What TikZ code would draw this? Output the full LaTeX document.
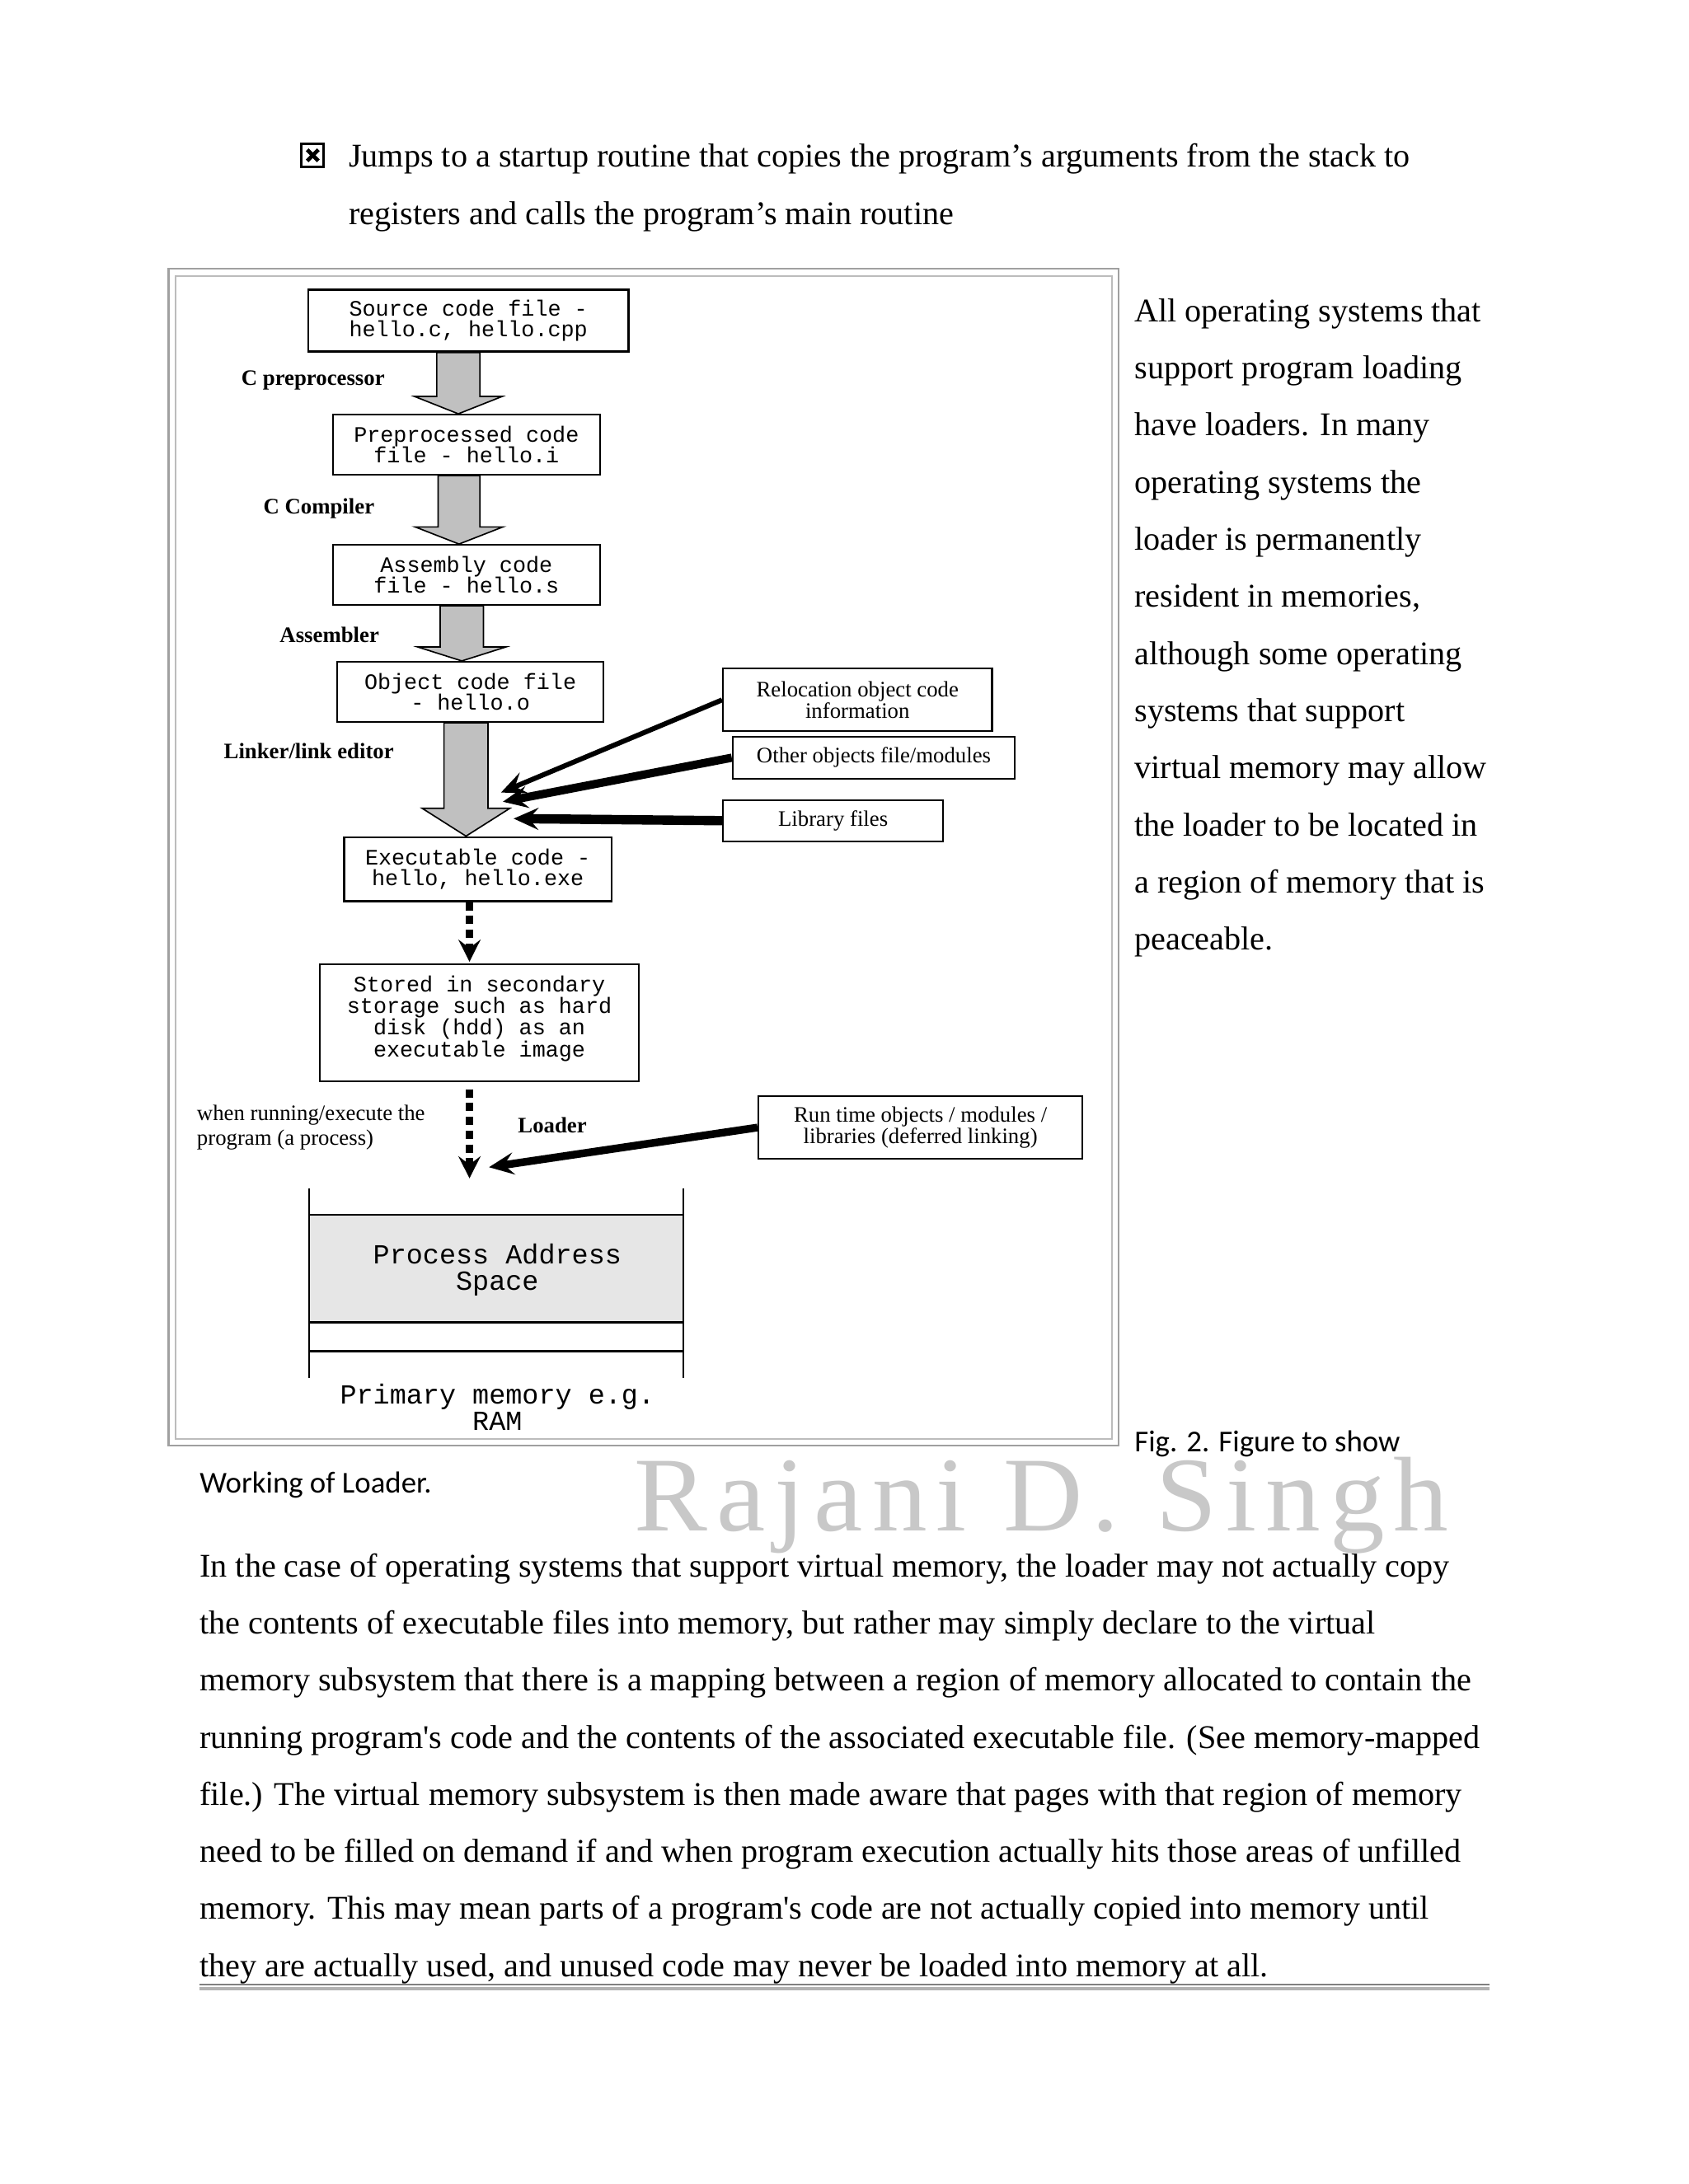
\documentclass[tikz,border=0pt]{standalone}
\usepackage{fontspec}
\usepackage{graphicx}
\setmainfont{Liberation Serif}
\newfontfamily\captionfont{Carlito}
\newfontfamily\boxmono{Liberation Mono}
\newfontfamily\wmserif[FakeStretch=0.84,LetterSpace=7]{Liberation Serif}
\usetikzlibrary{arrows.meta,calc,positioning}
\definecolor{fatgray}{HTML}{C0C0C0}
\definecolor{memgray}{HTML}{E6E6E6}
\definecolor{wmgray}{HTML}{C8C8C8}
\definecolor{framegray}{HTML}{A0A0A0}
\def\un{0.50495}
\tikzset{
  boxsize/.style 2 args={minimum width=#1*\un, minimum height=#2*\un},
  filebox/.style={draw, line width=0.7pt, inner sep=0, align=center,
    font=\boxmono\fontsize{8}{7.5}\selectfont},
  libbox/.style={draw, line width=0.7pt, inner sep=0, align=center,
    font=\fontsize{8}{7.6}\selectfont},
  steplabel/.style={inner sep=0, font=\bfseries\fontsize{8}{9}\selectfont},
  memtext/.style={inner sep=0, align=center, font=\boxmono\fontsize{10}{9.6}\selectfont},
  para/.style={inner sep=0, anchor=base west, font=\fontsize{12}{14}\selectfont},
  fatarrow/.style={fill=fatgray, draw=black, line width=0.5pt},
  feed/.style={draw, -{Stealth[length=9pt,width=8pt,inset=3.5pt]}},
  dashfeed/.style={draw, line width=2.6pt, dash pattern=on 3pt off 2pt,
    -{Stealth[length=8pt,width=8pt,inset=3pt]}},
}
% gray block arrow from #1 down to #2: axis x, shaft half width, head half width, head length
\newcommand{\fatlink}[6]{%
  \draw[fatarrow] ($(#3,0 |- #1.south)+(-#4,0)$) -- ($(#3,0 |- #2.north)+(-#4,-#6)$)
    -- ($(#3,0 |- #2.north)+(-#5,-#6)$) -- (#3,0 |- #2.north)
    -- ($(#3,0 |- #2.north)+(#5,-#6)$) -- ($(#3,0 |- #2.north)+(#4,-#6)$)
    -- ($(#3,0 |- #1.south)+(#4,0)$) -- cycle;}
\newcommand{\sq}{\textquotesingle}
\begin{document}
\begin{tikzpicture}[x=0.50495pt, y=-0.50495pt]
\useasboundingbox[fill=white] (0,0) rectangle (1212,1568);

% bullet line above the figure
\draw[line width=0.9pt] (216.5,103) rectangle (232.5,120);
\draw[line width=1.4pt] (220.5,107.5) -- (228.5,115.5) (228.5,107.5) -- (220.5,115.5);
\node[para] (jump1) at (250,120) {Jumps to a startup routine that copies the program’s arguments from the stack to};
\node[para] (jump2) at (250,161) {registers and calls the program’s main routine};

% figure frame
\draw[framegray, line width=0.6pt] (121,193) rectangle (803,1038);
\draw[framegray!70, line width=0.6pt] (126,198) rectangle (798,1033);

% file boxes
\node[filebox, boxsize={230}{44.5}] (src) at (336.2,230.2) {Source code file -\\hello.c, hello.cpp};
\node[filebox, boxsize={191.7}{43}] (pre) at (334.8,319.3) {Preprocessed code\\file - hello.i};
\node[filebox, boxsize={191.7}{43}] (asm) at (334.8,412.8) {Assembly code\\file - hello.s};
\node[filebox, boxsize={191}{43}] (obj) at (337.6,496.7) {Object code file\\- hello.o};
\node[filebox, boxsize={192}{46}] (exe) at (343,624) {Executable code -\\hello, hello.exe};
\node[filebox, boxsize={229}{84}, font=\boxmono\fontsize{8}{7.8}\selectfont] (stor) at (344.1,734.4)
  {Stored in secondary\\storage such as hard\\disk (hdd) as an\\executable image\\[-3pt]\mbox{}};

% side inputs
\node[libbox, boxsize={193}{45}] (reloc) at (615.5,502.5) {Relocation object code\\information};
\node[libbox, boxsize={202.5}{30}] (other) at (627.2,544) {Other objects file/modules};
\node[libbox, boxsize={158}{29.5}] (lib) at (598,589.2) {Library files};
\node[libbox, boxsize={232.5}{45}] (run) at (660.7,809.5) {Run time objects / modules /\\libraries (deferred linking)};

% step labels
\node[steplabel] (lblcpp) at (224.7,273.2) {C preprocessor};
\node[steplabel] (lblcc) at (228.9,365) {C Compiler};
\node[steplabel] (lblasm) at (236.5,456) {Assembler};
\node[steplabel] (lbllink) at (221.7,539) {Linker/link editor};
\node[steplabel] (lblload) at (396.5,808) {Loader};
\node[inner sep=0, anchor=west, align=left, font=\fontsize{8}{9}\selectfont] (runnote) at (141,809.7)
  {when running/execute the\\program (a process)};

% block arrows
\fatlink{src}{pre}{329}{15.5}{31.5}{12.5}
\fatlink{pre}{asm}{329.5}{15}{31.5}{12.3}
\fatlink{asm}{obj}{331.5}{15.5}{31.6}{10}
\fatlink{obj}{exe}{334.5}{15.8}{31.5}{20}

% linker inputs
\coordinate (lnkA) at (359.6,569);
\coordinate (lnkB) at (361,575.6);
\coordinate (lnkC) at (368.7,587.7);
\draw[feed, line width=1.8pt] (reloc.west) -- (lnkA);
\draw[feed, line width=3pt] (other.west) -- (lnkB);
\draw[feed, line width=3.4pt] (lib.west) -- (lnkC);

% exe to disk to memory
\draw[dashfeed] (337,0 |- exe.south) -- (337,690.5);
\coordinate (loadtip) at (337,846);
\draw[dashfeed, shorten <=2.5pt] (337,0 |- stor.south) -- (loadtip);
\coordinate (runtip) at (351,838);
\draw[feed, line width=2.8pt] (run.west) -- (runtip);

% primary memory
\fill[memgray] (222,872.3) rectangle (490.6,949.4);
\draw[line width=0.7pt] (222,853) -- (222,989.3) (490.6,853) -- (490.6,989.3);
\draw[line width=0.7pt] (222,872.3) -- (490.6,872.3) (222,949.4) -- (490.6,949.4) (222,970) -- (490.6,970);
\node[memtext] (pas) at (357,911.5) {Process Address\\Space};
\node[memtext] (ram) at (357,1010) {Primary memory e.g.\\RAM};

% watermark
\node[inner sep=0, anchor=south west, text=wmgray] (mark) at (455,1116)
  {\resizebox*{295pt}{35pt}{\wmserif Rajani D. Singh}};

% caption
\node[inner sep=0, anchor=base west, font=\captionfont\fontsize{11}{13}\selectfont] (cap1) at (814,1042) {Fig. 2. Figure to show};
\node[inner sep=0, anchor=base west, font=\captionfont\fontsize{11}{13}\selectfont] (cap2) at (143,1072) {Working of Loader.};

% side column
\foreach \txt [count=\i from 0] in {All operating systems that, support program loading,
  have loaders. In many, operating systems the, loader is permanently,
  {resident in memories,}, although some operating, systems that support,
  virtual memory may allow, the loader to be located in, a region of memory that is, peaceable.}
  \node[para] (side\i) at (814,231+41*\i) {\txt};

% body paragraph
\foreach \txt [count=\i from 0] in {
  {In the case of operating systems that support virtual memory, the loader may not actually copy},
  {the contents of executable files into memory, but rather may simply declare to the virtual},
  {memory subsystem that there is a mapping between a region of memory allocated to contain the},
  {running program\sq s code and the contents of the associated executable file. (See memory-mapped},
  {file.) The virtual memory subsystem is then made aware that pages with that region of memory},
  {need to be filled on demand if and when program execution actually hits those areas of unfilled},
  {memory. This may mean parts of a program\sq s code are not actually copied into memory until},
  {they are actually used, and unused code may never be loaded into memory at all.}}
  \node[para] (body\i) at (143,1132+41*\i) {\txt};
\draw[black!50, line width=0.6pt] (143,1425) -- (1069,1425);
\draw[black!30, line width=1pt] (143,1427.8) -- (1069,1427.8);
\end{tikzpicture}
\end{document}
